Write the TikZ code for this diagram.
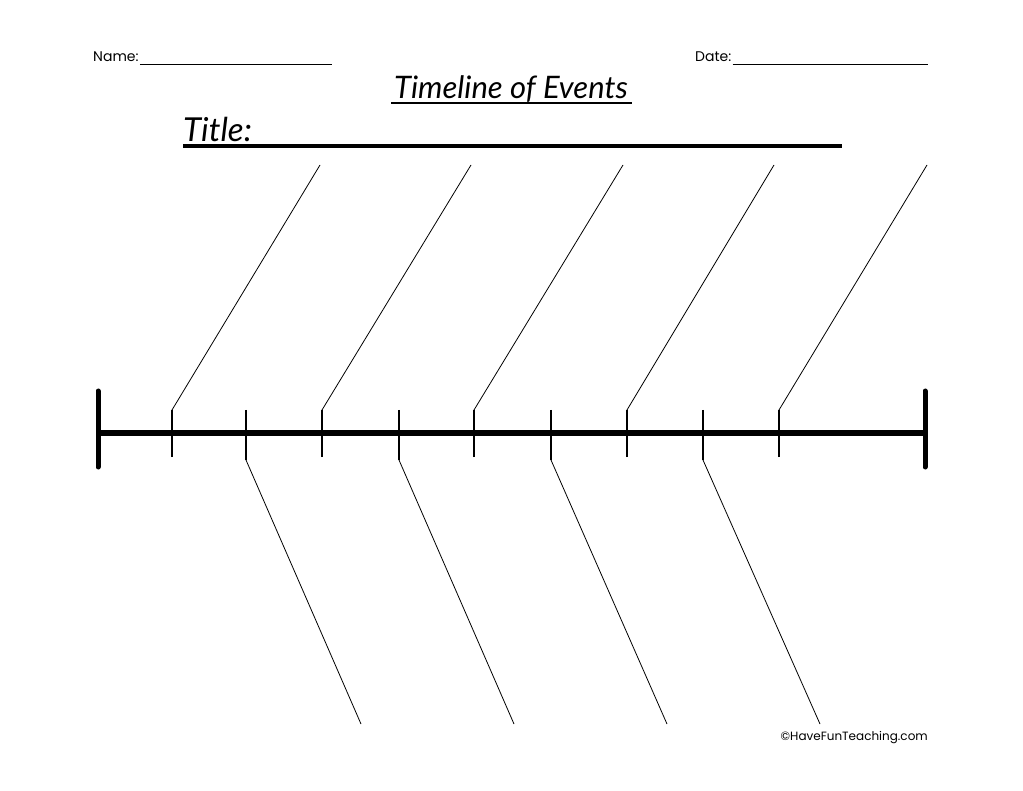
\documentclass[tikz,border=0pt]{standalone}
\usepackage{fontspec}
\setmainfont{Poppins}
\newfontfamily\scriptf{Lato}
\begin{document}
\begin{tikzpicture}[x=1pt,y=-1pt,
  small/.style={font=\fontsize{14}{16}\selectfont, inner sep=0pt, anchor=base west},
  axis/.style={line width=6pt},
  endbar/.style={line width=5pt, line cap=round},
  tick/.style={line width=1.2pt},
  diag/.style={line width=0.8pt},
  uline/.style={line width=0.9pt}]
\useasboundingbox (0,0) rectangle (1023,791);
% header
\node[small] (name) at (93,62) {Name:};
\coordinate (nameE) at (332,64);
\draw[uline] (name.base east) ++(1,2) coordinate (nameS) -- (nameE);
\node[small] (date) at (695,62) {Date:};
\coordinate (dateE) at (928,64);
\draw[uline] (date.base east) ++(1,2) coordinate (dateS) -- (dateE);
% headline
\node[font=\scriptf\itshape\fontsize{31}{34}\selectfont, inner sep=0pt, anchor=base] (head) at (511,99) {Timeline of Events};
\draw[line width=1.5pt] (391,103) -- (632,103);
\node[font=\scriptf\itshape\fontsize{33}{36}\selectfont, inner sep=0pt, anchor=base west] (title) at (183,142) {Title:};
\draw[line width=3.5pt] (183,146) -- (842,146);
% axis
\coordinate (L) at (98,433);
\coordinate (R) at (925,433);
\draw[axis] (L) -- (R);
\draw[endbar] (98,391) -- (98,467);
\draw[endbar] (925,391) -- (925,467);
% upper ticks and diagonals
\foreach \x/\ex [count=\i] in {172/320,322/471,474/623,627/774,779/927} {
  \coordinate (ut\i) at (\x,410);
  \coordinate (ub\i) at (\x,457);
  \coordinate (ue\i) at (\ex,165);
  \draw[tick] (ub\i) -- (ut\i);
  \draw[diag] (ut\i) -- (ue\i);
}
% lower ticks and diagonals
\foreach \x/\ex [count=\i] in {246/361,399/514,551/667,703/820} {
  \coordinate (lt\i) at (\x,410);
  \coordinate (lb\i) at (\x,460);
  \coordinate (le\i) at (\ex,724);
  \draw[tick] (lt\i) -- (lb\i);
  \draw[diag] (lb\i) -- (le\i);
}
% copyright
\node[font=\fontsize{12}{14}\selectfont, inner sep=0pt, anchor=base east] (copy) at (928,740) {©HaveFunTeaching.com};
\end{tikzpicture}
\end{document}
